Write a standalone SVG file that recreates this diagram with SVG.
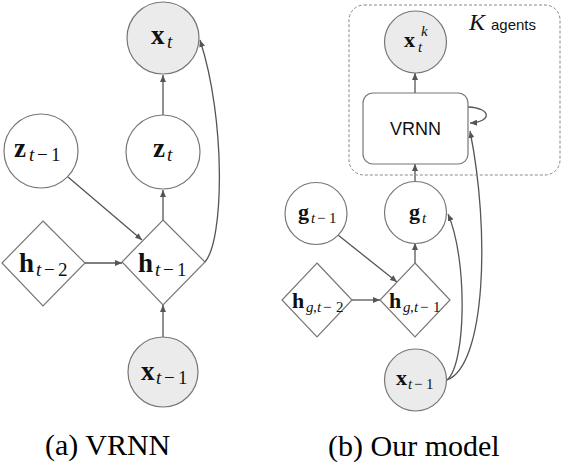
<svg xmlns="http://www.w3.org/2000/svg" width="568" height="463" viewBox="0 0 568 463">
<style>
.nd{fill:#fff;stroke:#777;stroke-width:1.2}
.obs{fill:#ebebeb;stroke:#777;stroke-width:1.2}
.cn{fill:none;stroke:#555;stroke-width:1.3}
.mb,.si,.su,.mb2,.si2,.su2,.cap,.kk{font-family:"Liberation Serif","Times New Roman",Times,"DejaVu Serif",serif;fill:#111}
.mb{font-weight:bold;font-size:27px}
.si{font-style:italic;font-size:19px}
.su{font-size:19px}
.mb2{font-weight:bold;font-size:22px}
.si2{font-style:italic;font-size:15px}
.su2{font-size:15px}
.kk{font-style:italic;font-size:24px}
.cap{font-size:30px;fill:#000}
.sans{font-family:"Liberation Sans",Arial,sans-serif;fill:#111}
</style>
<defs>
<marker id="ah" markerWidth="8" markerHeight="6" refX="7" refY="3" orient="auto" markerUnits="userSpaceOnUse">
<path d="M0,0 L7,3 L0,6 Z" fill="#555"/>
</marker>
</defs>

<g id="connectors">
<path class="cn" d="M163,116 L163,75" marker-end="url(#ah)"/>
<path class="cn" d="M163,220 L163,190" marker-end="url(#ah)"/>
<path class="cn" d="M163,338 L163,305" marker-end="url(#ah)"/>
<path class="cn" d="M85,263 L122,263" marker-end="url(#ah)"/>
<path class="cn" d="M68,177 L142,240" marker-end="url(#ah)"/>
<path class="cn" d="M205,262 C224,240 226,120 200,40" marker-end="url(#ah)"/>

<path class="cn" d="M415,93 L415,73" marker-end="url(#ah)"/>
<path class="cn" d="M415,182 L415,164" marker-end="url(#ah)"/>
<path class="cn" d="M415,263 L415,243" marker-end="url(#ah)"/>
<path class="cn" d="M352,300 L380,300" marker-end="url(#ah)"/>
<path class="cn" d="M338,235 L397,282" marker-end="url(#ah)"/>
<path class="cn" d="M447,380 C466,365 468,260 448,214" marker-end="url(#ah)"/>
<path class="cn" d="M447,380 C486,365 490,230 470,131" marker-end="url(#ah)"/>
<path class="cn" d="M468,107 C492,108 492,122 470,123" marker-end="url(#ah)"/>
</g>

<g id="plate">
<rect x="349" y="5" width="211" height="170" rx="15" fill="none" stroke="#888" stroke-width="1" stroke-dasharray="3,2"/>
<text y="30"><tspan x="469" class="kk">K</tspan><tspan x="491" class="sans" font-size="15">agents</tspan></text>
</g>

<g id="xt">
<circle cx="163" cy="38" r="36" class="obs"/>
<text y="44"><tspan x="151" class="mb">x</tspan><tspan x="167" y="48" class="si">t</tspan></text>
</g>
<g id="zt1">
<circle cx="41" cy="151" r="37" class="nd"/>
<text y="157"><tspan x="14" class="mb">z</tspan><tspan x="29" y="161" class="si">t</tspan><tspan x="37" y="161" class="su">−</tspan><tspan x="51" y="161" class="su">1</tspan></text>
</g>
<g id="zt">
<circle cx="163" cy="152" r="37" class="nd"/>
<text y="157"><tspan x="153" class="mb">z</tspan><tspan x="167" y="161" class="si">t</tspan></text>
</g>
<g id="ht2">
<polygon points="43,221 85,263 43,306 2,263" class="nd"/>
<text y="272"><tspan x="19" class="mb">h</tspan><tspan x="36" y="276" class="si">t</tspan><tspan x="44" y="276" class="su">−</tspan><tspan x="58" y="276" class="su">2</tspan></text>
</g>
<g id="ht1">
<polygon points="163,220 205,262 163,305 122,262" class="nd"/>
<text y="272"><tspan x="138" class="mb">h</tspan><tspan x="155" y="276" class="si">t</tspan><tspan x="163" y="276" class="su">−</tspan><tspan x="177" y="276" class="su">1</tspan></text>
</g>
<g id="xt1">
<circle cx="163" cy="372" r="35" class="obs"/>
<text y="380"><tspan x="141" class="mb">x</tspan><tspan x="156" y="384" class="si">t</tspan><tspan x="164" y="384" class="su">−</tspan><tspan x="178" y="384" class="su">1</tspan></text>
</g>

<g id="xtk">
<circle cx="415.5" cy="42" r="31" class="obs"/>
<text y="47"><tspan x="404" class="mb2">x</tspan><tspan x="421" y="36" class="si2">k</tspan><tspan x="418" y="52" class="si2">t</tspan></text>
</g>
<g id="vrnn">
<rect x="363" y="93" width="105" height="71" rx="10" class="nd"/>
<text x="415.5" y="135" text-anchor="middle" class="sans" font-size="18">VRNN</text>
</g>
<g id="gt1">
<circle cx="316" cy="213.5" r="31" class="nd"/>
<text y="219"><tspan x="298" class="mb2">g</tspan><tspan x="311" y="223" class="si2">t</tspan><tspan x="317" y="223" class="su2">−</tspan><tspan x="329" y="223" class="su2">1</tspan></text>
</g>
<g id="gt">
<circle cx="415.5" cy="212.5" r="31" class="nd"/>
<text y="219"><tspan x="409" class="mb2">g</tspan><tspan x="422" y="223" class="si2">t</tspan></text>
</g>
<g id="hgt2">
<polygon points="317,263 352,300 317,337 282,300" class="nd"/>
<text y="308"><tspan x="292" class="mb2">h</tspan><tspan x="306" y="312" class="si2">g</tspan><tspan x="313" y="312" class="su2">,</tspan><tspan x="317" y="312" class="si2">t</tspan><tspan x="323" y="312" class="su2">−</tspan><tspan x="336" y="312" class="su2">2</tspan></text>
</g>
<g id="hgt1">
<polygon points="415,263 450,300 415,337 380,300" class="nd"/>
<text y="308"><tspan x="389" class="mb2">h</tspan><tspan x="403" y="312" class="si2">g</tspan><tspan x="410" y="312" class="su2">,</tspan><tspan x="414" y="312" class="si2">t</tspan><tspan x="420" y="312" class="su2">−</tspan><tspan x="433" y="312" class="su2">1</tspan></text>
</g>
<g id="xt1b">
<circle cx="415.5" cy="380" r="31" class="obs"/>
<text y="385"><tspan x="396" class="mb2">x</tspan><tspan x="408" y="389" class="si2">t</tspan><tspan x="414" y="389" class="su2">−</tspan><tspan x="426" y="389" class="su2">1</tspan></text>
</g>

<g id="captions">
<text x="45" y="455" class="cap">(a) VRNN</text>
<text x="328" y="456" class="cap">(b) Our model</text>
</g>
</svg>
